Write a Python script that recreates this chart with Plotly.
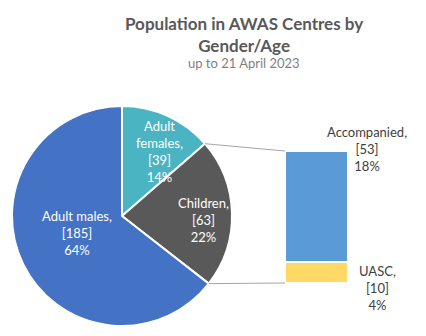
import math
import plotly.graph_objects as go

# ---- data ----
pie_labels = ["Adult females", "Children", "Adult males"]
pie_text_labels = ["Adult<br>females,", "Children,", "Adult males,"]
pie_values = [39, 63, 185]
pie_pcts = ["14%", "22%", "64%"]
bar_labels = ["UASC", "Accompanied"]
bar_values = [10, 53]
bar_pcts = ["4%", "18%"]
title_lines = ["Population in AWAS Centres by", "Gender/Age"]
subtitle = "up to 21 April 2023"

# ---- style ----
W, H = 426, 336
pie_colors = ["#4BB4C2", "#595959", "#4472C4"]
bar_colors = ["#FFD966", "#5B9BD5"]
FONT = "Lato"
pie_cx, pie_cy, pie_r = 122, 216, 110          # pixel geometry of pie
bar_x0, bar_x1, bar_y0, bar_y1 = 285, 348, 283, 151   # bar pixel box
label_polar = [(30, 0.68), (93, 0.74), (250, 0.44)]     # (deg, radius frac)
bar_label_dx = [92, 82]      # label centre x offset from bar left edge (px)
bar_label_dy = [5, -2]       # label centre y offset from bar bottom/top (px)

total = sum(pie_values)

def px2paper(x, y):
    return x / W, 1 - y / H

fig = go.Figure()
fig.add_trace(go.Pie(
    labels=pie_labels, values=pie_values, sort=False, direction="clockwise",
    rotation=0, textinfo="none", hoverinfo="label+value+percent",
    marker=dict(colors=pie_colors, line=dict(color="white", width=2)),
    domain=dict(x=[(pie_cx - pie_r) / W, (pie_cx + pie_r) / W],
                y=[1 - (pie_cy + pie_r) / H, 1 - (pie_cy - pie_r) / H]),
    showlegend=False,
))

for lab, val, col in zip(bar_labels, bar_values, bar_colors):
    fig.add_trace(go.Bar(
        x=[0], y=[val], name=lab, marker=dict(color=col, line=dict(color="white", width=2)),
        width=1, showlegend=False, xaxis="x", yaxis="y",
    ))

annotations = []
# pie labels
for i, (tl, v, p) in enumerate(zip(pie_text_labels, pie_values, pie_pcts)):
    ang, rf = label_polar[i]
    px = pie_cx + rf * pie_r * math.sin(math.radians(ang))
    py = pie_cy - rf * pie_r * math.cos(math.radians(ang))
    x, y = px2paper(px, py)
    annotations.append(dict(
        x=x, y=y, xref="paper", yref="paper", xanchor="center", yanchor="middle",
        showarrow=False, text=f"{tl}<br>[{v}]<br>{p}", align="center",
        font=dict(family=FONT, size=13, color="white"),
    ))

# bar labels (positioned relative to the stacked bar ends)
bar_total = sum(bar_values)
scale = (bar_y0 - bar_y1) / bar_total
ref_vals = [0, bar_total]     # UASC label at the bottom, Accompanied at the top
for i, (lab, v, p) in enumerate(zip(bar_labels, bar_values, bar_pcts)):
    py = bar_y0 - ref_vals[i] * scale + bar_label_dy[i]
    px = bar_x0 + bar_label_dx[i]
    x, y = px2paper(px, py)
    annotations.append(dict(
        x=x, y=y, xref="paper", yref="paper", xanchor="center", yanchor="middle",
        showarrow=False, text=f"{lab},<br>[{v}]<br>{p}",
        font=dict(family=FONT, size=13, color="#404040"), align="center",
    ))

# title
annotations.append(dict(
    x=244 / W, y=1 - 35 / H, xref="paper", yref="paper", xanchor="center", yanchor="middle",
    showarrow=False, text="<b>" + "<br>".join(title_lines) + "</b>", align="center",
    font=dict(family=FONT, size=17, color="#595959"),
))
annotations.append(dict(
    x=244 / W, y=1 - 63 / H, xref="paper", yref="paper", xanchor="center", yanchor="middle",
    showarrow=False, text=subtitle, font=dict(family=FONT, size=13, color="#7F7F7F"),
))

# connector lines from pie (children slice boundaries) to bar corners
a1 = 360 * pie_values[0] / total
a2 = 360 * (pie_values[0] + pie_values[1]) / total
shapes = []
for ang, by in [(a1, bar_y1), (a2, bar_y0)]:
    px = pie_cx + pie_r * math.sin(math.radians(ang))
    py = pie_cy - pie_r * math.cos(math.radians(ang))
    x0, y0 = px2paper(px, py)
    x1, y1 = px2paper(bar_x0, by)
    shapes.append(dict(type="line", xref="paper", yref="paper", x0=x0, y0=y0, x1=x1, y1=y1,
                       line=dict(color="#A6A6A6", width=1)))

fig.update_layout(
    width=W, height=H, margin=dict(l=0, r=0, t=0, b=0),
    paper_bgcolor="white", plot_bgcolor="white",
    barmode="stack", bargap=0,
    xaxis=dict(domain=[bar_x0 / W, bar_x1 / W], range=[-0.5, 0.5], visible=False, fixedrange=True),
    yaxis=dict(domain=[1 - bar_y0 / H, 1 - bar_y1 / H], range=[0, bar_total], visible=False, fixedrange=True),
    annotations=annotations, shapes=shapes,
    font=dict(family=FONT),
)

fig.write_html("out.html")
